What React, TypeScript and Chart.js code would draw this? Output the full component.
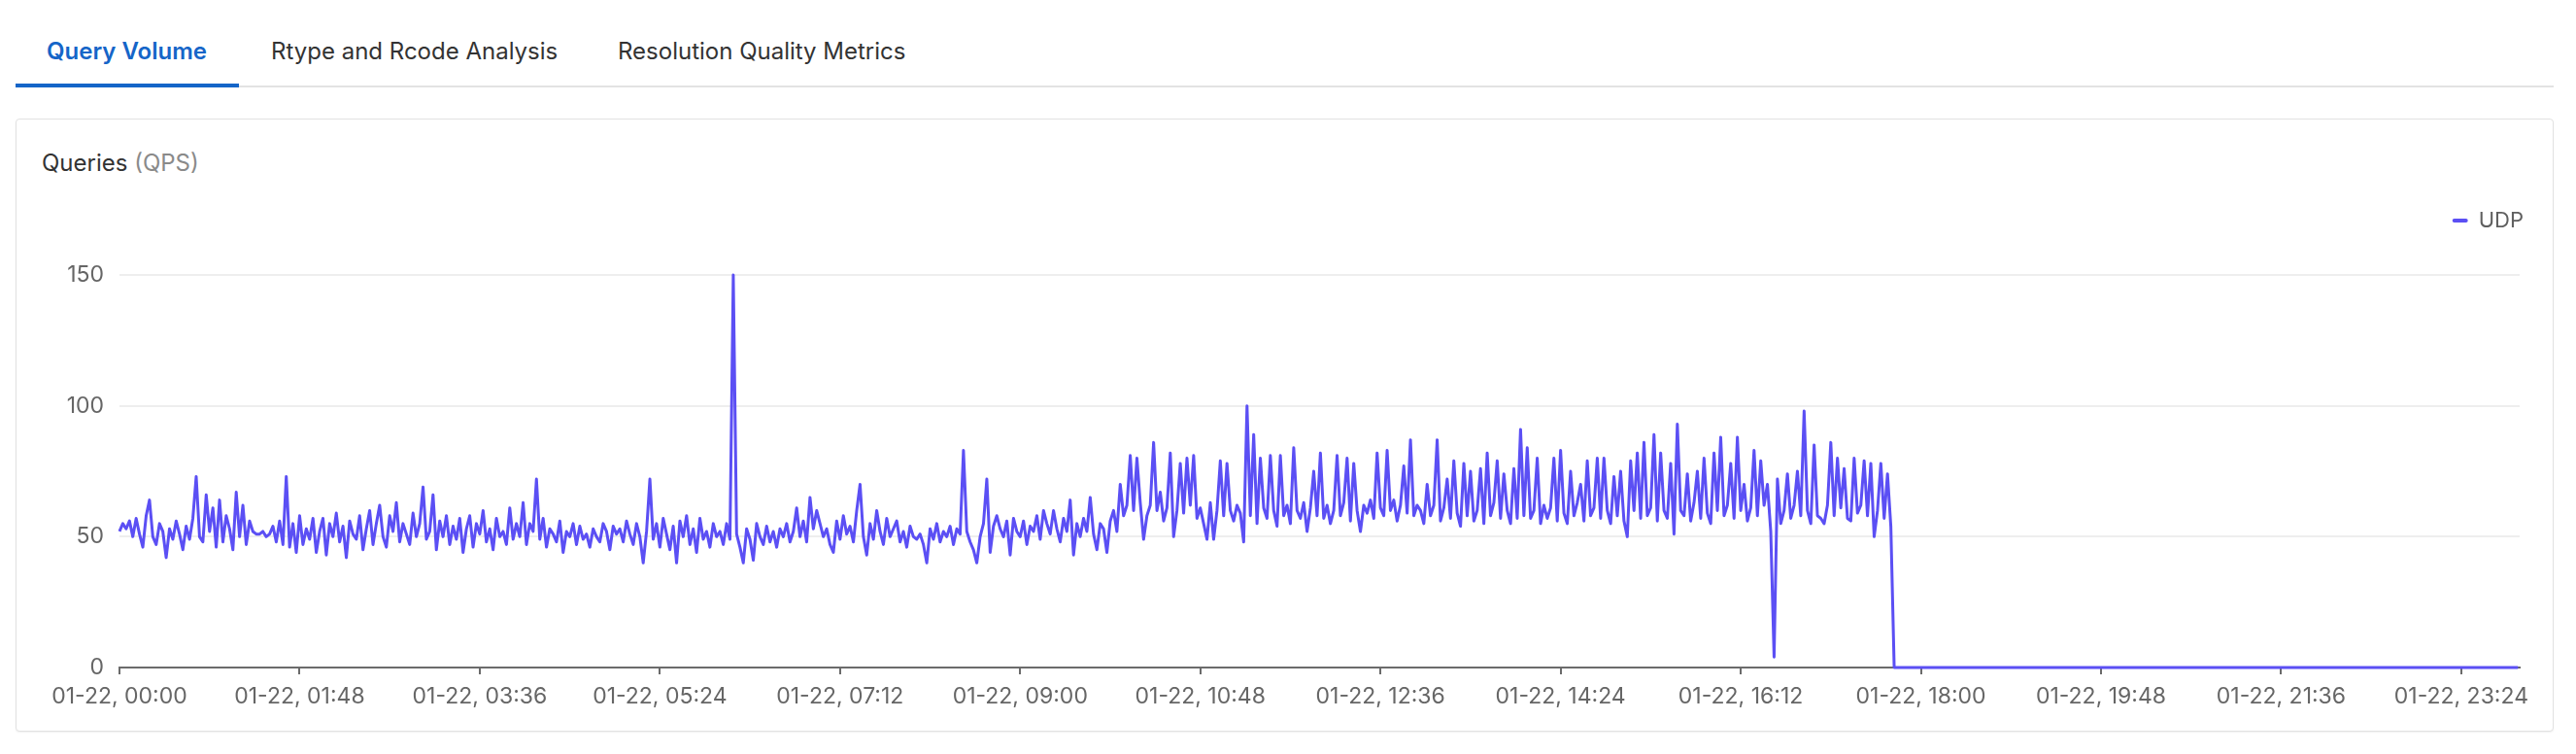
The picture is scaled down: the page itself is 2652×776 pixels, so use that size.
import React, { useEffect, useRef } from 'react';
import { Chart, registerables } from 'chart.js';

Chart.register(...registerables);

// ---------- data ----------
const DATE_PREFIX = '01-22';
const STEP_MINUTES = 2; // one sample every 2 minutes
const X_MAX_MINUTE = 1439;
const X_TICK_STEP = 108; // minutes between x labels
const Y_MAX = 150;
const Y_STEP = 50;
const SERIES_LABEL = 'UDP';
const TABS = ['Query Volume', 'Rtype and Rcode Analysis', 'Resolution Quality Metrics'];
const PANEL_TITLE = 'Queries';
const PANEL_UNIT = '(QPS)';

// QPS values, 30 samples per hour (2-minute resolution)
const H00 = [52, 55, 53, 56, 50, 57, 51, 46, 58, 64, 50, 47, 55, 52, 42, 53, 49, 56, 51, 45, 54, 49, 57, 73, 50, 48, 66, 52, 61, 46];
const H01 = [64, 48, 58, 53, 45, 67, 50, 62, 47, 56, 52, 51, 51, 52, 50, 51, 54, 48, 56, 47, 73, 46, 55, 44, 58, 47, 53, 49, 57, 44];
const H02 = [52, 57, 43, 55, 50, 59, 48, 54, 42, 56, 51, 49, 58, 45, 53, 60, 47, 55, 62, 50, 46, 58, 52, 63, 48, 55, 51, 47, 59, 50];
const H03 = [55, 69, 49, 52, 66, 45, 56, 50, 58, 47, 54, 49, 57, 44, 53, 58, 46, 55, 51, 60, 48, 53, 45, 57, 50, 52, 47, 61, 49, 55];
const H04 = [50, 63, 47, 55, 52, 72, 49, 57, 46, 53, 51, 48, 56, 44, 52, 50, 55, 47, 54, 49, 51, 46, 53, 50, 48, 55, 52, 45, 54, 51];
const H05 = [53, 48, 56, 51, 47, 55, 50, 40, 52, 72, 49, 55, 46, 57, 51, 45, 54, 40, 56, 50, 58, 47, 53, 44, 57, 49, 52, 46, 55, 50];
const H06 = [52, 47, 55, 49, 150, 51, 46, 40, 53, 49, 41, 55, 50, 47, 54, 48, 52, 46, 53, 50, 55, 48, 52, 61, 50, 56, 48, 65, 53, 60];
const H07 = [55, 50, 53, 47, 44, 56, 49, 58, 51, 54, 48, 60, 70, 50, 43, 55, 49, 60, 52, 47, 57, 50, 53, 56, 48, 52, 46, 54, 50, 49];
const H08 = [51, 47, 40, 53, 49, 55, 48, 52, 50, 54, 47, 53, 51, 83, 52, 48, 45, 40, 50, 55, 72, 44, 54, 58, 53, 50, 56, 43, 57, 52];
const H09 = [50, 56, 47, 54, 52, 58, 49, 60, 55, 51, 60, 53, 48, 57, 52, 64, 43, 55, 50, 57, 52, 65, 51, 45, 55, 53, 44, 56, 60, 52];
const H10 = [70, 58, 62, 81, 60, 80, 63, 49, 58, 62, 86, 60, 67, 56, 61, 82, 50, 60, 78, 59, 80, 62, 81, 57, 61, 55, 49, 63, 49, 60];
const H11 = [79, 58, 78, 60, 56, 62, 59, 48, 100, 58, 89, 55, 80, 61, 57, 81, 60, 54, 81, 58, 62, 55, 84, 60, 57, 63, 52, 61, 75, 58];
const H12 = [82, 57, 62, 55, 60, 81, 58, 63, 80, 56, 78, 60, 52, 62, 59, 64, 57, 82, 61, 58, 83, 60, 64, 56, 62, 77, 59, 87, 58, 62];
const H13 = [60, 55, 70, 58, 62, 87, 56, 61, 72, 57, 79, 59, 54, 78, 58, 75, 56, 60, 76, 55, 82, 58, 63, 79, 57, 74, 60, 55, 76, 57];
const H14 = [91, 58, 84, 57, 60, 80, 55, 62, 57, 61, 80, 56, 83, 59, 55, 75, 58, 63, 70, 56, 79, 58, 61, 80, 57, 80, 60, 55, 73, 58];
const H15 = [75, 56, 50, 79, 60, 82, 57, 86, 58, 61, 89, 56, 82, 60, 57, 78, 51, 93, 60, 58, 74, 56, 63, 75, 57, 80, 59, 55, 82, 60];
const H16 = [88, 58, 62, 78, 57, 88, 60, 70, 56, 61, 83, 58, 79, 62, 70, 52, 4, 72, 55, 60, 74, 57, 62, 75, 58, 98, 60, 55, 85, 58];
const H17 = [57, 55, 62, 86, 58, 80, 61, 76, 57, 56, 80, 59, 62, 79, 58, 78, 50, 60, 78, 57, 74, 54, 0, 0, 0, 0, 0, 0, 0, 0];
const H18 = [0, 0, 0, 0, 0, 0, 0, 0, 0, 0, 0, 0, 0, 0, 0, 0, 0, 0, 0, 0, 0, 0, 0, 0, 0, 0, 0, 0, 0, 0];
const H19 = [0, 0, 0, 0, 0, 0, 0, 0, 0, 0, 0, 0, 0, 0, 0, 0, 0, 0, 0, 0, 0, 0, 0, 0, 0, 0, 0, 0, 0, 0];
const H20 = [0, 0, 0, 0, 0, 0, 0, 0, 0, 0, 0, 0, 0, 0, 0, 0, 0, 0, 0, 0, 0, 0, 0, 0, 0, 0, 0, 0, 0, 0];
const H21 = [0, 0, 0, 0, 0, 0, 0, 0, 0, 0, 0, 0, 0, 0, 0, 0, 0, 0, 0, 0, 0, 0, 0, 0, 0, 0, 0, 0, 0, 0];
const H22 = [0, 0, 0, 0, 0, 0, 0, 0, 0, 0, 0, 0, 0, 0, 0, 0, 0, 0, 0, 0, 0, 0, 0, 0, 0, 0, 0, 0, 0, 0];
const H23 = [0, 0, 0, 0, 0, 0, 0, 0, 0, 0, 0, 0, 0, 0, 0, 0, 0, 0, 0, 0, 0, 0, 0, 0, 0, 0, 0, 0, 0, 0];

const VALUES = [
  ...H00, ...H01, ...H02, ...H03, ...H04, ...H05, ...H06, ...H07,
  ...H08, ...H09, ...H10, ...H11, ...H12, ...H13, ...H14, ...H15,
  ...H16, ...H17, ...H18, ...H19, ...H20, ...H21, ...H22, ...H23,
];

// ---------- styles ----------
const FONT = 'Inter, "Noto Sans", "Liberation Sans", sans-serif';
const LINE_COLOR = '#5b4ff4';
const AXIS_COLOR = '#6b6b6b';
const GRID_COLOR = '#eeeeee';
const TEXT_COLOR = '#666666';
const LEGEND_GAP = 35;

const pad2 = (n: number) => String(n).padStart(2, '0');
const fmtTime = (m: number) => `${DATE_PREFIX}, ${pad2(Math.floor(m / 60))}:${pad2(Math.round(m % 60))}`;

// adds empty space between the legend and the plot area
const legendGapPlugin = {
  id: 'legendGap',
  beforeUpdate(chart: any) {
    const lg = chart.legend;
    if (lg && !lg.__gapPatched) {
      const orig = lg.fit;
      lg.fit = function (this: any) {
        orig.call(this);
        this.height += LEGEND_GAP;
      };
      lg.__gapPatched = true;
    }
  },
};

export default function App() {
  const ref = useRef<HTMLCanvasElement | null>(null);

  useEffect(() => {
    const canvas = ref.current;
    if (!canvas) return;
    const points = VALUES.map((v, i) => ({ x: i * STEP_MINUTES, y: v }));
    const chart = new Chart(canvas, {
      type: 'line',
      data: {
        datasets: [
          {
            label: SERIES_LABEL,
            data: points,
            borderColor: LINE_COLOR,
            backgroundColor: LINE_COLOR,
            borderWidth: 3,
            pointRadius: 0,
            tension: 0,
            borderJoinStyle: 'round',
            clip: false,
          } as any,
        ],
      },
      plugins: [legendGapPlugin],
      options: {
        animation: false,
        responsive: false,
        devicePixelRatio: 1,
        layout: { padding: 0 },
        plugins: {
          legend: {
            position: 'top',
            align: 'end',
            labels: {
              boxWidth: 16,
              boxHeight: 4,
              padding: 10,
              color: '#5f5f5f',
              font: { family: FONT, size: 22 },
              useBorderRadius: true,
              borderRadius: 2,
              generateLabels: (c: any) =>
                (Chart.defaults.plugins.legend.labels.generateLabels as any)(c).map((l: any) => ({
                  ...l,
                  lineWidth: 0,
                  fillStyle: LINE_COLOR,
                })),
            },
          },
          tooltip: { enabled: false },
        },
        scales: {
          x: {
            type: 'linear',
            min: 0,
            max: X_MAX_MINUTE,
            ticks: {
              stepSize: X_TICK_STEP,
              includeBounds: false,
              autoSkip: false,
              maxRotation: 0,
              padding: 9,
              color: TEXT_COLOR,
              font: { family: FONT, size: 23 },
              callback: (v: any) => fmtTime(Number(v)),
            },
            grid: {
              drawOnChartArea: false,
              drawTicks: true,
              tickLength: 7,
              color: AXIS_COLOR,
              lineWidth: 2,
            },
            border: { display: true, color: AXIS_COLOR, width: 2 },
            afterFit: (s: any) => {
              s.paddingLeft = 0;
              s.paddingRight = 14;
              s.height = 50;
            },
          },
          y: {
            min: 0,
            max: Y_MAX,
            ticks: {
              stepSize: Y_STEP,
              padding: 16,
              color: TEXT_COLOR,
              font: { family: FONT, size: 23 },
            },
            grid: { color: GRID_COLOR, lineWidth: 2, drawTicks: false },
            border: { display: false },
            afterFit: (s: any) => {
              s.width = 106;
            },
          },
        },
      } as any,
    });
    return () => chart.destroy();
  }, []);

  const tabLefts = [40, 271, 628];

  return (
    <div style={{ position: 'relative', width: 2636, height: 760, fontFamily: FONT }}>
      {TABS.map((t, i) => (
        <div
          key={t}
          style={{
            position: 'absolute',
            left: tabLefts[i],
            top: 30,
            height: 30,
            lineHeight: '30px',
            fontSize: 24,
            whiteSpace: 'nowrap',
            fontWeight: i === 0 ? 600 : 400,
            color: i === 0 ? '#1565c8' : '#333333',
          }}
        >
          {t}
        </div>
      ))}
      <div style={{ position: 'absolute', left: 8, top: 80, width: 2613, height: 2, background: '#e3e3e3' }} />
      <div style={{ position: 'absolute', left: 8, top: 78, width: 230, height: 4, background: '#1565c8' }} />

      <div
        style={{
          position: 'absolute',
          left: 8,
          top: 114,
          width: 2613,
          height: 631,
          boxSizing: 'border-box',
          border: '1px solid #e2e2e2',
          borderRadius: 4,
          boxShadow: '0 1px 2px rgba(0,0,0,0.06)',
          background: '#fff',
        }}
      />
      <div
        style={{
          position: 'absolute',
          left: 35,
          top: 146,
          height: 28,
          lineHeight: '28px',
          fontSize: 24,
          whiteSpace: 'nowrap',
          color: '#333333',
        }}
      >
        {PANEL_TITLE} <span style={{ color: '#8a8a8a' }}>{PANEL_UNIT}</span>
      </div>
      <canvas
        ref={ref}
        width={2591}
        height={531}
        style={{ position: 'absolute', left: 9, top: 198, width: 2591, height: 531 }}
      />
    </div>
  );
}
